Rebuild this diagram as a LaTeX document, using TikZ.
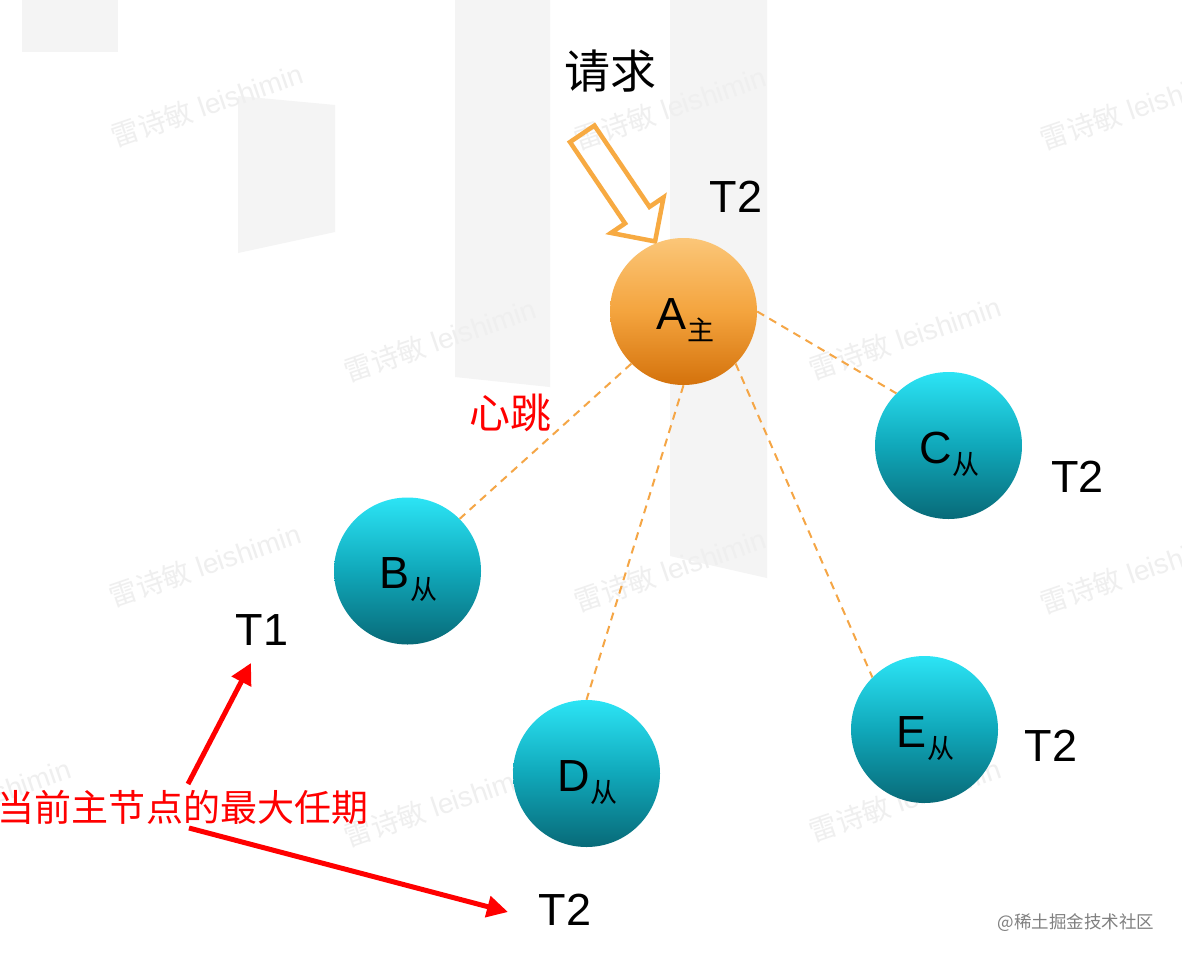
\documentclass[tikz,border=0pt]{standalone}
\usepackage{fontspec}
\setmainfont{Liberation Sans}
\newfontfamily\cjk{Noto Sans CJK SC}
\usetikzlibrary{shapes.arrows,arrows.meta}
\definecolor{orgline}{RGB}{245,166,70}
\definecolor{orgtop}{RGB}{251,198,120}
\definecolor{orgmid}{RGB}{244,164,62}
\definecolor{orgbot}{RGB}{212,114,12}
\definecolor{tealtop}{RGB}{44,228,245}
\definecolor{tealmid}{RGB}{16,168,186}
\definecolor{tealbot}{RGB}{8,106,120}
\definecolor{bgshape}{RGB}{244,244,244}
\definecolor{wmark}{RGB}{239,239,239}
\definecolor{reqarrow}{RGB}{247,170,66}
\newcommand\subcjk[1]{\raisebox{-11pt}{\cjk\fontsize{27}{27}\selectfont #1}}
\begin{document}
\begin{tikzpicture}[x=1pt,y=-1pt,
  server/.style={circle, minimum size=147pt, inner sep=0pt},
  master/.style={server, top color=orgtop, bottom color=orgbot, middle color=orgmid},
  slave/.style={server, top color=tealtop, bottom color=tealbot, middle color=tealmid},
  lbl/.style={inner sep=0pt, font=\fontsize{45}{50}\selectfont},
  term/.style={inner sep=0pt, font=\fontsize{45}{50}\selectfont},
  hb/.style={draw=orgline, line width=2pt, dash pattern=on 8pt off 6pt},
  redarrow/.style={draw=red, line width=5pt, -{Triangle[length=21pt,width=21pt]}},
  wm/.style={inner sep=0pt, text=wmark, rotate=19, font=\fontsize{28}{30}\selectfont},
  reqstyle/.style={single arrow, draw=reqarrow, line width=4.5pt, fill=none,
    single arrow head extend=17pt, inner xsep=0pt, inner ysep=12.5pt,
    minimum height=130pt}
]
\useasboundingbox (0,0) rectangle (1182,958);
\fill[white] (0,0) rectangle (1182,958);
% faint background shapes
\fill[bgshape] (22,0) rectangle (118,52);
\fill[bgshape] (238,96) -- (335,105) -- (335,232) -- (238,253) -- cycle;
\fill[bgshape] (455,0) -- (550,0) -- (550,387) -- (455,377) -- cycle;
\fill[bgshape] (670,0) -- (767,0) -- (767,578) -- (670,556) -- cycle;
% watermarks
\foreach \p [count=\i] in {(207,105),(670,108),(1136,108),(440,340),(905,338),(-25,800),(205,565),(670,570),(1136,572),(440,805),(905,800)}
  \node[wm] (wm\i) at \p {{\cjk 雷诗敏} leishimin};
\node[inner sep=0pt, text=black!50, font=\cjk\fontsize{17.5}{18}\selectfont] (site) at (1076,923) {@稀土掘金技术社区};

% request
\node[inner sep=0pt, font=\cjk\fontsize{46}{48}\selectfont] (req) at (610,71.5) {请求};
\node[reqstyle, rotate=-55.9] (reqarr) at (614.5,181.5) {};

% servers
\node[master] (A) at (683.5,311.5) {};
\node[slave] (B) at (407.5,571) {};
\node[slave] (C) at (948.5,445.5) {};
\node[slave] (D) at (586.5,773.5) {};
\node[slave] (E) at (924.5,729.5) {};
\node[lbl] (Al) at ([shift={(1.5,8.5)}]A.center) {A\kern1pt\subcjk{主}};
\node[lbl] (Bl) at ([shift={(1,9)}]B.center) {B\kern1pt\subcjk{从}};
\node[lbl] (Cl) at ([shift={(1,9)}]C.center) {C\kern1pt\subcjk{从}};
\node[lbl] (Dl) at ([shift={(1,9)}]D.center) {D\kern1pt\subcjk{从}};
\node[lbl] (El) at ([shift={(1,9)}]E.center) {E\kern1pt\subcjk{从}};

% heartbeats
\draw[hb] (A.south west) -- (B.north east);
\draw[hb] (A.east) -- (C.north west);
\draw[hb] (A.south) -- (D.north);
\draw[hb] (A.south east) -- (E.north west);
\node[inner sep=0pt, text=red, font=\cjk\fontsize{41}{43}\selectfont] (hbl) at (510,413) {心跳};

% terms
\node[term] (tA) at (736,196.5) {T2};
\node[term] (tC) at (1077.5,476.5) {T2};
\node[term] (tE) at (1051,745.5) {T2};
\node[term] (tB) at (262,630) {T1};
\node[term] (tmax) at (565,910) {T2};

% max term
\node[inner sep=0pt, text=red, font=\cjk\fontsize{37}{40}\selectfont] (maxterm) at (183,807) {当前主节点的最大任期};
\coordinate (s1) at (188,784);
\coordinate (e1) at (251,663);
\coordinate (s2) at (189,828);
\coordinate (e2) at (508,912);
\draw[redarrow] (s1) -- (e1);
\draw[redarrow] (s2) -- (e2);
\end{tikzpicture}
\end{document}
